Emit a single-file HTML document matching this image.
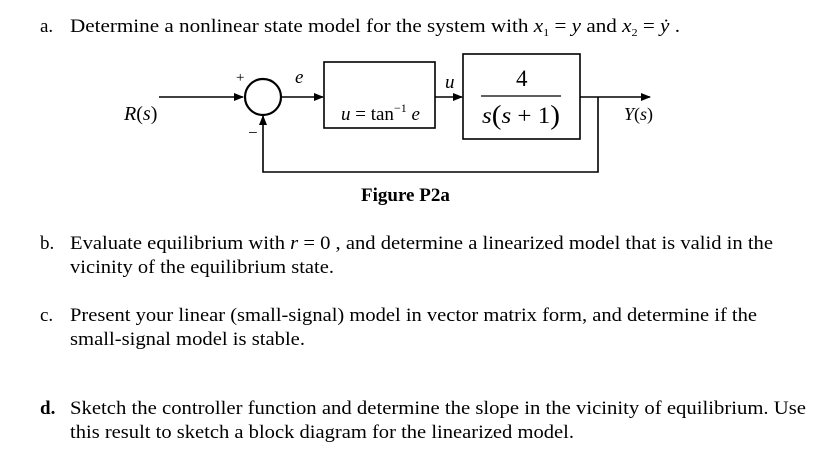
<!DOCTYPE html>
<html><head><meta charset="utf-8"><style>
html,body{margin:0;padding:0;background:#fff;}
svg{display:block;}
text{font-family:"Liberation Serif",serif;fill:#000;}
</style></head><body>
<svg width="835" height="472" viewBox="0 0 835 472" xmlns="http://www.w3.org/2000/svg">
<defs><marker id="ar" markerWidth="10" markerHeight="8" refX="9" refY="4" orient="auto" markerUnits="userSpaceOnUse"><path d="M0,0 L10,4 L0,8 z" fill="#000"/></marker></defs>
<g font-size="19">
<text x="40" y="32">a.</text>
<text x="70" y="32" textLength="610" lengthAdjust="spacingAndGlyphs">Determine a nonlinear state model for the system with <tspan font-style="italic">x</tspan><tspan font-size="11" dy="4">1</tspan><tspan dy="-4"> = </tspan><tspan font-style="italic">y</tspan>  and <tspan font-style="italic">x</tspan><tspan font-size="11" dy="4">2</tspan><tspan dy="-4"> = </tspan><tspan font-style="italic">ẏ</tspan> .</text>
</g>
<g stroke="#000" stroke-width="1.6" fill="none">
<line x1="159" y1="97" x2="243" y2="97" marker-end="url(#ar)"/>
<circle cx="263" cy="97" r="18" stroke-width="2.2"/>
<line x1="281" y1="97" x2="323" y2="97" marker-end="url(#ar)"/>
<rect x="324" y="62" width="111" height="66"/>
<line x1="435" y1="97" x2="462" y2="97" marker-end="url(#ar)"/>
<rect x="463" y="54" width="117" height="85"/>
<line x1="580" y1="97" x2="650" y2="97" marker-end="url(#ar)"/>
<polyline points="598,97 598,172 263,172 263,116" marker-end="url(#ar)"/>
<line x1="481" y1="96" x2="561" y2="96" stroke-width="1.2"/>
</g>
<g font-size="19">
<text x="236" y="82" font-size="15">+</text>
<text x="248" y="138" font-size="17">−</text>
<text x="295" y="83" font-style="italic" fill="#333">e</text>
<text x="445" y="88" font-style="italic">u</text>
<text x="341" y="120"><tspan font-style="italic">u</tspan> = tan<tspan font-size="12" dy="-8">−1</tspan><tspan dy="8" font-style="italic"> e</tspan></text>
<text x="516" y="86" font-size="23">4</text>
<text x="482" y="123" font-size="23" textLength="78" lengthAdjust="spacingAndGlyphs"><tspan font-style="italic">s</tspan><tspan font-size="27" dy="1">(</tspan><tspan font-style="italic" dy="-1">s</tspan> + 1<tspan font-size="27" dy="1">)</tspan></text>
<text x="124" y="120" font-size="20"><tspan font-style="italic">R</tspan>(<tspan font-style="italic">s</tspan>)</text>
<text x="624" y="120" font-size="18"><tspan font-style="italic">Y</tspan>(<tspan font-style="italic">s</tspan>)</text>
<text x="361" y="201" font-weight="bold">Figure P2a</text>
<text x="40" y="249">b.</text>
<text x="70" y="249" textLength="703" lengthAdjust="spacingAndGlyphs">Evaluate equilibrium with <tspan font-style="italic">r</tspan> = 0 , and determine a linearized model that is valid in the</text>
<text x="70" y="273" textLength="264" lengthAdjust="spacingAndGlyphs">vicinity of the equilibrium state.</text>
<text x="40" y="321">c.</text>
<text x="70" y="321" textLength="687" lengthAdjust="spacingAndGlyphs">Present your linear (small-signal) model in vector matrix form, and determine if the</text>
<text x="70" y="345" textLength="235" lengthAdjust="spacingAndGlyphs">small-signal model is stable.</text>
<text x="40" y="414" font-weight="bold">d.</text>
<text x="70" y="414" textLength="736" lengthAdjust="spacingAndGlyphs">Sketch the controller function and determine the slope in the vicinity of equilibrium.  Use</text>
<text x="70" y="438" textLength="504" lengthAdjust="spacingAndGlyphs">this result to sketch a block diagram for the linearized model.</text>
</g>
</svg>
</body></html>
